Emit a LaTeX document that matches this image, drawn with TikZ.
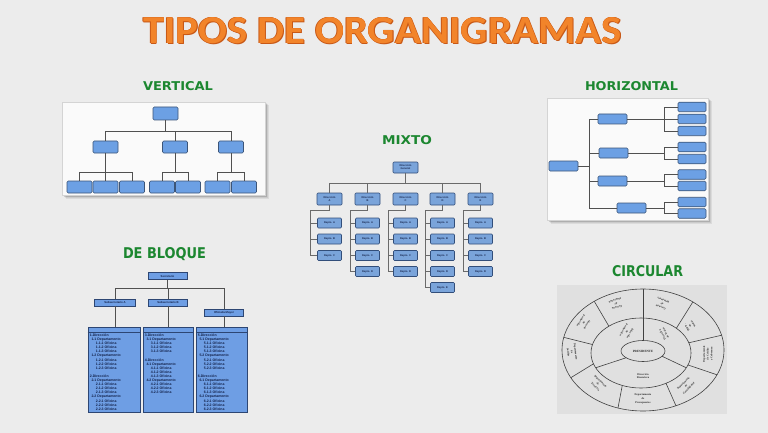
\documentclass[tikz,border=0pt]{standalone}
\usepackage{fontspec}
\setmainfont{Liberation Serif}
\setsansfont{Liberation Sans}
\newfontfamily\carlito{Carlito}
\newfontfamily\heavy{DejaVu Sans}
\usetikzlibrary{calc,shapes.geometric}
\definecolor{bg}{RGB}{236,236,236}
\definecolor{panel}{RGB}{250,250,250}
\definecolor{panelline}{RGB}{212,212,212}
\definecolor{vfill}{RGB}{108,160,228}
\definecolor{vline}{RGB}{60,85,120}
\definecolor{connc}{RGB}{80,80,80}
\definecolor{mfill}{RGB}{122,164,218}
\definecolor{mline}{RGB}{50,78,122}
\definecolor{mtext}{RGB}{25,40,80}
\definecolor{bfill}{RGB}{110,158,228}
\definecolor{bline}{RGB}{45,70,115}
\definecolor{btext}{RGB}{20,35,75}
\definecolor{cpanel}{RGB}{224,224,224}
\definecolor{cl}{RGB}{65,65,65}
\definecolor{ctext}{RGB}{40,40,40}
\definecolor{titleorange}{RGB}{242,132,42}
\definecolor{titledark}{RGB}{200,88,22}
\definecolor{tgreen}{RGB}{28,135,48}
\newcommand{\panelshadow}[4]{\foreach \s in {1,...,5}{\fill[black,opacity=0.07] (#1+\s*0.8,#2+\s*0.6) rectangle (#3+\s*0.8,#4+\s*0.8);}}
\newcommand{\titletext}{\resizebox{479pt}{26pt}{\carlito\bfseries TIPOS DE ORGANIGRAMAS}}
\tikzset{
  vb/.style={draw=vline, fill=vfill, rounded corners=1.2pt, line width=0.6pt, inner sep=0, minimum width=25pt, minimum height=12pt},
  hb/.style={vb, minimum width=29pt, minimum height=10pt},
  hl/.style={vb, minimum width=28pt, minimum height=9.5pt},
  conn/.style={draw=connc, line width=0.7pt},
  mconn/.style={draw=connc!85, line width=0.6pt},
  bconn/.style={draw=connc, line width=0.6pt},
  mb/.style={draw=mline, fill=mfill, rounded corners=1pt, line width=0.6pt, inner sep=0, minimum width=25pt, minimum height=12pt, font=\sffamily\bfseries\fontsize{2.6}{2.9}\selectfont, text=mtext, align=center},
  md/.style={mb, minimum width=24pt, minimum height=10pt},
  bb/.style={draw=bline, fill=bfill, line width=0.5pt, inner sep=0, minimum height=7pt, font=\sffamily\bfseries\fontsize{2.8}{3}\selectfont, text=btext},
  blk/.style={draw=bline, fill=bfill, line width=0.6pt, inner sep=0, minimum height=85pt},
  btxt/.style={anchor=north west, inner sep=0, align=left, font=\sffamily\bfseries\fontsize{3.5}{4.1}\selectfont, text=btext},
  ctxt/.style={font=\bfseries\fontsize{2.7}{3.7}\selectfont, align=center, text=ctext, inner sep=0},
  glabel/.style={text=tgreen, inner sep=0},
  cline/.style={draw=cl, line width=0.6pt}
}
\begin{document}
\begin{tikzpicture}[x=1pt,y=-1pt]
\useasboundingbox (0,0) rectangle (768,433);
\fill[bg] (0,0) rectangle (768,433);

% ---------- title ----------
\node[inner sep=0, text=titledark] (titleshadow) at (383.4,32) {\titletext};
\node[inner sep=0, text=titledark] (titleedge1) at (382.0,31) {\titletext};
\node[inner sep=0, text=titledark] (titleedge2) at (383.0,31) {\titletext};
\node[inner sep=0, text=titledark] (titleedge3) at (382.5,30.5) {\titletext};
\node[inner sep=0, text=titleorange] (title) at (382.5,31) {\titletext};

% ---------- section labels ----------
\node[glabel] (tv) at (178,86.5) {\resizebox{70pt}{9pt}{\heavy\bfseries VERTICAL}};
\node[glabel] (th) at (631.5,86.5) {\resizebox{93pt}{9pt}{\heavy\bfseries HORIZONTAL}};
\node[glabel] (tm) at (407,140.5) {\resizebox{50pt}{9pt}{\heavy\bfseries MIXTO}};
\node[glabel] (tb) at (164.5,254) {\resizebox{83pt}{11pt}{\heavy\bfseries DE BLOQUE}};
\node[glabel] (tc) at (647.5,271) {\resizebox{71pt}{11pt}{\heavy\bfseries CIRCULAR}};

% ---------- VERTICAL ----------
\panelshadow{62}{102}{265}{195}
\filldraw[fill=panel, draw=panelline, line width=0.5pt] (62,102) rectangle (265,195);
\node[vb, minimum height=13pt] (v0) at (165.5,113.5) {};
\node[vb] (v1) at (105.5,147) {};
\node[vb] (v2) at (175,147) {};
\node[vb] (v3) at (231,147) {};
\node[vb] (l1) at (79.5,187) {};
\node[vb] (l2) at (105.5,187) {};
\node[vb] (l3) at (132,187) {};
\node[vb] (l4) at (162,187) {};
\node[vb] (l5) at (188,187) {};
\node[vb] (l6) at (217.5,187) {};
\node[vb] (l7) at (244,187) {};
\coordinate (vbus) at (0,131);
\coordinate (gbus) at (0,172);
\draw[conn] (v0.south) -- (v0.south |- vbus);
\draw[conn] (v1.north) |- (v3.north |- vbus) -- (v3.north);
\draw[conn] (v2.north) -- (v2.north |- vbus);
\draw[conn] (l1.north) |- (l3.north |- gbus) -- (l3.north);
\draw[conn] (v1.south) -- (l2.north);
\draw[conn] (l4.north) |- (l5.north |- gbus) -- (l5.north);
\draw[conn] (v2.south) -- (v2.south |- gbus);
\draw[conn] (l6.north) |- (l7.north |- gbus) -- (l7.north);
\draw[conn] (v3.south) -- (v3.south |- gbus);

% ---------- HORIZONTAL ----------
\panelshadow{547}{98}{708}{220}
\filldraw[fill=panel, draw=panelline, line width=0.5pt] (547,98) rectangle (708,220);
\node[hb] (h0) at (563.5,166) {};
\node[hb] (h1) at (612.5,119) {};
\node[hb] (h2) at (613.5,153) {};
\node[hb] (h3) at (612.5,181) {};
\node[hb] (h4) at (631.5,208) {};
\node[hl] (hl1) at (692,107) {};
\node[hl] (hl2) at (692,119) {};
\node[hl] (hl3) at (692,131) {};
\node[hl] (hl4) at (692,147) {};
\node[hl] (hl5) at (692,159) {};
\node[hl] (hl6) at (692,174.5) {};
\node[hl] (hl7) at (692,186) {};
\node[hl] (hl8) at (692,202) {};
\node[hl] (hl9) at (692,213.5) {};
\coordinate (hbus) at (589,0);
\coordinate (hsub) at (664,0);
\draw[conn] (h0.east) -- (h0.east -| hbus);
\draw[conn] (h1.west) -- (h1.west -| hbus) -- (h4.west -| hbus) -- (h4.west);
\draw[conn] (h2.west) -- (h2.west -| hbus);
\draw[conn] (h3.west) -- (h3.west -| hbus);
\draw[conn] (h1.east) -- (h1.east -| hsub);
\draw[conn] (hl1.west) -- (hl1.west -| hsub) -- (hl3.west -| hsub) -- (hl3.west);
\draw[conn] (hl2.west) -- (hl2.west -| hsub);
\draw[conn] (h2.east) -- (h2.east -| hsub);
\draw[conn] (hl4.west) -- (hl4.west -| hsub) -- (hl5.west -| hsub) -- (hl5.west);
\draw[conn] (h3.east) -- (h3.east -| hsub);
\draw[conn] (hl6.west) -- (hl6.west -| hsub) -- (hl7.west -| hsub) -- (hl7.west);
\draw[conn] (h4.east) -- (h4.east -| hsub);
\draw[conn] (hl8.west) -- (hl8.west -| hsub) -- (hl9.west -| hsub) -- (hl9.west);

% ---------- MIXTO ----------
\node[mb, minimum height=11pt] (m0) at (405.5,167.5) {Dirección\\General};
\node[mb] (mA) at (329.5,199) {Dirección\\A};
\node[mb] (mB) at (367.5,199) {Dirección\\B};
\node[mb] (mC) at (405.5,199) {Dirección\\C};
\node[mb] (mD) at (442.5,199) {Dirección\\D};
\node[mb] (mE) at (480.5,199) {Dirección\\E};
\coordinate (mbus) at (0,183);
\draw[mconn] (m0.south) -- (m0.south |- mbus);
\draw[mconn] (mA.north) |- (mE.north |- mbus) -- (mE.north);
\draw[mconn] (mB.north) -- (mB.north |- mbus);
\draw[mconn] (mD.north) -- (mD.north |- mbus);
\foreach \c/\x/\cx/\n in {A/329.5/310/3, B/367.5/350/4, C/405.5/388/4, D/442.5/425/5, E/480.5/463/4} {
  \coordinate (c\c) at (\cx,210);
  \draw[mconn] (m\c.south) |- (c\c);
  \foreach \k/\L/\y in {1/A/223,2/B/239,3/C/255.5,4/D/271.5,5/E/287.5} {
    \ifnum\k>\n\relax\else
      \node[md] (d\c\k) at (\x,\y) {Depto. \L};
      \draw[mconn] (c\c |- d\c\k.west) -- (d\c\k.west);
    \fi
  }
  \draw[mconn] (c\c) -- (c\c |- d\c\n.west);
}

% ---------- DE BLOQUE ----------
\node[bb, minimum width=39pt] (s0) at (167.5,276) {Secretario};
\node[bb, minimum width=41pt] (s1) at (115,302.5) {Subsecretario A};
\node[bb, minimum width=39pt] (s2) at (168,302.5) {Subsecretario B};
\node[bb, minimum width=39pt] (s3) at (224,312.5) {Oficialía Mayor};
\node[blk, minimum width=52pt] (k1) at (114,369.5) {};
\node[blk, minimum width=50pt] (k2) at (168,369.5) {};
\node[blk, minimum width=51pt] (k3) at (221.5,369.5) {};
\coordinate (bbus) at (0,288);
\draw[bconn] (s0.south) -- (s0.south |- bbus);
\draw[bconn] (s1.north) |- (s3.north |- bbus) -- (s3.north);
\draw[bconn] (s2.north) -- (s2.north |- bbus);
\draw[bconn] (s1.south) -- (s1.south |- k1.north);
\draw[bconn] (s2.south) -- (s2.south |- k2.north);
\draw[bconn] (s3.south) -- (s3.south |- k3.north);
\foreach \k in {k1,k2,k3} {
  \draw[draw=bline, line width=0.5pt] ($(\k.north west)+(0,6)$) -- ($(\k.north east)+(0,6)$);
}
\node[btxt] (k1t) at ($(k1.north west)+(2,7)$) {%
1.Dirección\\ \hspace*{1.6pt}1.1 Departamento\\ \hspace*{6pt}1.1.1 Oficina\\ \hspace*{6pt}1.1.2 Oficina\\ \hspace*{6pt}1.1.3 Oficina\\
\hspace*{1.6pt}1.2 Departamento\\ \hspace*{6pt}1.2.1 Oficina\\ \hspace*{6pt}1.2.2 Oficina\\ \hspace*{6pt}1.2.3 Oficina\\ ~\\
2.Dirección\\ \hspace*{1.6pt}2.1 Departamento\\ \hspace*{6pt}2.1.1 Oficina\\ \hspace*{6pt}2.1.2 Oficina\\ \hspace*{6pt}2.1.3 Oficina\\
\hspace*{1.6pt}2.2 Departamento\\ \hspace*{6pt}2.2.1 Oficina\\ \hspace*{6pt}2.2.2 Oficina\\ \hspace*{6pt}2.2.3 Oficina};
\node[btxt] (k2t) at ($(k2.north west)+(2,7)$) {%
3.Dirección\\ \hspace*{1.6pt}3.1 Departamento\\ \hspace*{6pt}3.1.1 Oficina\\ \hspace*{6pt}3.1.2 Oficina\\ \hspace*{6pt}3.1.3 Oficina\\ ~\\
4.Dirección\\ \hspace*{1.6pt}4.1 Departamento\\ \hspace*{6pt}4.1.1 Oficina\\ \hspace*{6pt}4.1.2 Oficina\\ \hspace*{6pt}4.1.3 Oficina\\
\hspace*{1.6pt}4.2 Departamento\\ \hspace*{6pt}4.2.1 Oficina\\ \hspace*{6pt}4.2.2 Oficina\\ \hspace*{6pt}4.2.3 Oficina};
\node[btxt] (k3t) at ($(k3.north west)+(2,7)$) {%
5.Dirección\\ \hspace*{1.6pt}5.1 Departamento\\ \hspace*{6pt}5.1.1 Oficina\\ \hspace*{6pt}5.1.2 Oficina\\ \hspace*{6pt}5.1.3 Oficina\\
\hspace*{1.6pt}5.2 Departamento\\ \hspace*{6pt}5.2.1 Oficina\\ \hspace*{6pt}5.2.2 Oficina\\ \hspace*{6pt}5.2.3 Oficina\\ ~\\
6.Dirección\\ \hspace*{1.6pt}6.1 Departamento\\ \hspace*{6pt}6.1.1 Oficina\\ \hspace*{6pt}6.1.2 Oficina\\ \hspace*{6pt}6.1.3 Oficina\\
\hspace*{1.6pt}6.2 Departamento\\ \hspace*{6pt}6.2.1 Oficina\\ \hspace*{6pt}6.2.2 Oficina\\ \hspace*{6pt}6.2.3 Oficina};

% ---------- CIRCULAR ----------
\fill[cpanel] (557,285) rectangle (727,414);
\draw[cline] (643,350) ellipse [x radius=81pt, y radius=61pt];
\draw[cline] (641,353) ellipse [x radius=50pt, y radius=35pt];
\node[draw=cl, line width=0.6pt, ellipse, minimum width=44pt, minimum height=21pt, inner sep=0, font=\bfseries\fontsize{3.2}{3.5}\selectfont, text=ctext] (pres) at (643,351) {PRESIDENTE};
\draw[cline] (pres.north) -- (pres.north |- 0,289);
\draw[cline] ([shift={(643,350)}]127:81pt and 61pt) -- ([shift={(641,353)}]130:50pt and 35pt);
\draw[cline] ([shift={(643,350)}]168:81pt and 61pt) -- ([shift={(641,353)}]166:50pt and 35pt);
\draw[cline] ([shift={(643,350)}]207:81pt and 61pt) -- ([shift={(641,353)}]198:50pt and 35pt);
\draw[cline] ([shift={(643,350)}]252:81pt and 61pt) -- ([shift={(641,353)}]248:50pt and 35pt);
\draw[cline] ([shift={(643,350)}]294:81pt and 61pt) -- ([shift={(641,353)}]300:50pt and 35pt);
\draw[cline] ([shift={(643,350)}]336:81pt and 61pt) -- ([shift={(641,353)}]340:50pt and 35pt);
\draw[cline] ([shift={(643,350)}]14:81pt and 61pt) -- ([shift={(641,353)}]17:50pt and 35pt);
\draw[cline] ([shift={(643,350)}]52:81pt and 61pt) -- ([shift={(641,353)}]45:50pt and 35pt);
\draw[cline] ([shift={(643,351)}]220:22pt and 10.5pt) -- ([shift={(641,353)}]205:50pt and 35pt);
\draw[cline] ([shift={(643,351)}]330:22pt and 10.5pt) -- ([shift={(641,353)}]335:50pt and 35pt);
% sector labels
\node[ctxt, rotate=198] (cs1) at (616,304) {Gerencia\\de\\Planeación};
\node[ctxt, rotate=160] (cs2) at (662,304) {Gerencia\\de\\Relaciones};
\node[ctxt, rotate=123] (cs3) at (690,326) {Depto.\\de\\Ventas};
\node[ctxt, rotate=90] (cs4) at (708,354) {Departamento\\de Crédito\\y Cobranza};
\node[ctxt, rotate=45] (cs5) at (686,386) {Departamento\\de\\Contabilidad};
\node[ctxt] (cs6) at (643,399) {Departamento\\de\\Presupuestos};
\node[ctxt, rotate=-45] (cs7) at (598,384) {Departamento\\de\\Tesorería};
\node[ctxt, rotate=-83] (cs8) at (572,352) {Departamento\\de\\Sueldos};
\node[ctxt, rotate=238] (cs9) at (584,323) {Gerencia\\de\\Producción};
\node[ctxt, rotate=240] (ci1) at (627,332) {Dirección\\de\\Producción};
\node[ctxt, rotate=120] (ci2) at (664,334) {Dirección\\de Ventas};
\node[ctxt] (ci3) at (643,376) {Dirección\\Financiera};
\end{tikzpicture}
\end{document}
